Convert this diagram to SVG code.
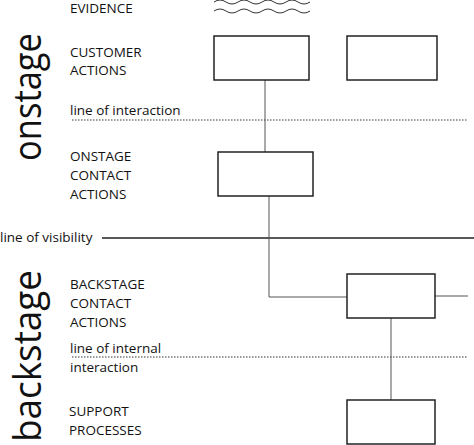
<svg xmlns="http://www.w3.org/2000/svg" width="474" height="445" viewBox="0 0 474 445">
<style>
.t{font-family:"Open Sans","Liberation Sans",sans-serif;font-size:13.5px;fill:#111}
.big{font-family:"Open Sans","Liberation Sans",sans-serif;font-size:38px;fill:#111}
.box{fill:#fff;stroke:#222;stroke-width:1.5}
.c{fill:none;stroke:#555;stroke-width:1}
.dot{stroke:#333;stroke-width:1;stroke-dasharray:1.5 1.5}
</style>
<rect width="474" height="445" fill="#fff"/>
<text class="big" transform="translate(41,161) rotate(-90)" textLength="128" lengthAdjust="spacingAndGlyphs">onstage</text>
<text class="big" transform="translate(41,442) rotate(-90)" textLength="172" lengthAdjust="spacingAndGlyphs">backstage</text>
<text class="t" x="70" y="13">EVIDENCE</text>
<text class="t" x="70" y="57">CUSTOMER</text>
<text class="t" x="70" y="75">ACTIONS</text>
<text class="t" x="70" y="115">line of interaction</text>
<text class="t" x="70" y="161">ONSTAGE</text>
<text class="t" x="70" y="180">CONTACT</text>
<text class="t" x="70" y="199">ACTIONS</text>
<text class="t" x="0" y="242">line of visibility</text>
<text class="t" x="70" y="289">BACKSTAGE</text>
<text class="t" x="70" y="308">CONTACT</text>
<text class="t" x="70" y="327">ACTIONS</text>
<text class="t" x="70" y="353">line of internal</text>
<text class="t" x="70" y="372">interaction</text>
<text class="t" x="69" y="416">SUPPORT</text>
<text class="t" x="69" y="435">PROCESSES</text>
<g id="evidence" fill="none" stroke="#333" stroke-width="1">
<path d="M214 2 q6 -4 12 0 t12 0 t12 0 t12 0 t12 0 t12 0 t12 0 t12 0"/>
<path d="M214 11 q6 -4 12 0 t12 0 t12 0 t12 0 t12 0 t12 0 t12 0 t12 0"/>
</g>
<g id="lines">
<line class="dot" x1="72" y1="120" x2="468" y2="120"/>
<line class="dot" x1="72" y1="357" x2="468" y2="357"/>
<line x1="102" y1="238" x2="474" y2="238" stroke="#222" stroke-width="1.5"/>
</g>
<g id="connectors">
<path class="c" d="M265 80 V152"/>
<path class="c" d="M269 196 V297 H347"/>
<path class="c" d="M435 296 H468"/>
<path class="c" d="M391 318 V400"/>
</g>
<g id="customer"><rect class="box" x="214" y="36" width="95" height="44"/></g>
<g id="customer2"><rect class="box" x="347" y="36" width="90" height="44"/></g>
<g id="onstage"><rect class="box" x="218" y="152" width="95" height="44"/></g>
<g id="backstage"><rect class="box" x="347" y="274" width="88" height="44"/></g>
<g id="support"><rect class="box" x="347" y="400" width="88" height="44"/></g>
</svg>
